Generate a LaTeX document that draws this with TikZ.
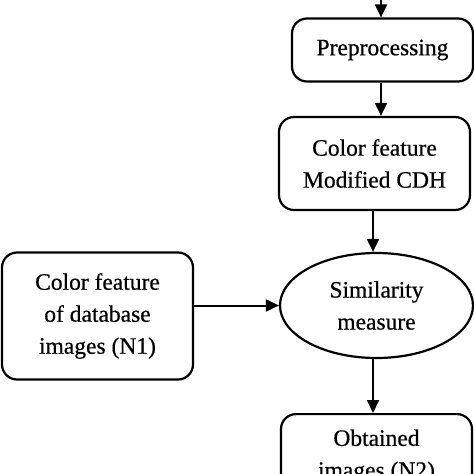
\documentclass[tikz,border=0pt]{standalone}
\usepackage{fontspec}
\setmainfont{Liberation Serif}
\newfontfamily\heavy{Liberation Serif}[FakeBold=0.5]
\usetikzlibrary{arrows.meta,shapes.geometric}
\begin{document}
\begin{tikzpicture}[x=1pt,y=-1pt,
  txt/.style={font=\heavy\fontsize{23.5}{32}\selectfont},
  box/.style={draw,line width=2.2pt,rounded corners=15pt,align=center,inner sep=0pt,txt},
  ell/.style={draw,ellipse,line width=2.2pt,align=center,inner sep=0pt,txt},
  arr/.style={line width=2pt,-{Triangle[length=13pt,width=12pt]}}]
\useasboundingbox (0,0) rectangle (474,474);
\clip (0,0) rectangle (474,474);
\node[box,minimum width=181pt,minimum height=63pt] (pre) at (382.5,50) {Preprocessing};
\node[box,minimum width=191pt,minimum height=93pt] (cf) at (374.5,163.5) {Color feature\\Modified CDH};
\node[ell,minimum width=193pt,minimum height=105pt] (sim) at (376.5,305.5) {Similarity\\measure};
\node[box,minimum width=191pt,minimum height=127pt] (db) at (97.5,316) {Color feature\\of database\\images (N1)};
\node[box,minimum width=191pt,minimum height=110pt,anchor=north] (obt) at (376.5,413) {};
\node[txt,align=center,anchor=north] (obttxt) at (376.5,426) {Obtained\\images (N2)};
\coordinate (top) at (381,0);
\draw[arr] (top) -- (pre.north -| top);
\draw[arr] (pre.south -| top) -- (cf.north -| top);
\coordinate (c2) at (373,0);
\draw[arr] (cf.south -| c2) -- (sim.north -| c2);
\draw[arr] (sim.south -| c2) -- (obt.north -| c2);
\draw[arr] (sim.west -| db.east) -- (sim.west);
\end{tikzpicture}
\end{document}
